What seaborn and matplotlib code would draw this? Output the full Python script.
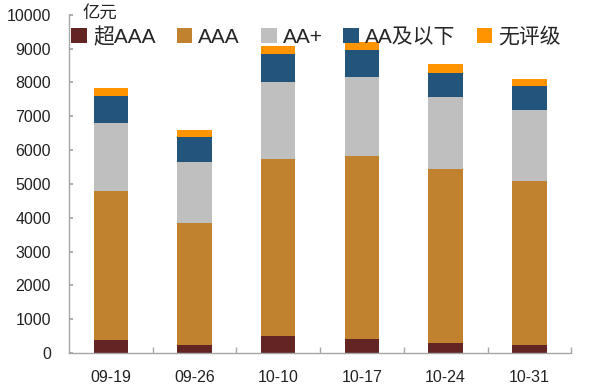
import numpy as np
import pandas as pd
import matplotlib
matplotlib.use("Agg")
import matplotlib.pyplot as plt
import seaborn as sns
from matplotlib.patches import Patch
from matplotlib.ticker import FixedLocator

sns.set_theme(style="white")
plt.rcParams['font.family'] = ['Liberation Sans', 'Noto Sans CJK SC', 'DejaVu Sans']

categories = ["09-19", "09-26", "10-10", "10-17", "10-24", "10-31"]
series_names = ["超AAA", "AAA", "AA+", "AA及以下", "无评级"]
super_aaa = [390, 230, 490, 410, 290, 230]
aaa = [4400, 3620, 5260, 5410, 5150, 4860]
aa_plus = [2010, 1800, 2260, 2350, 2120, 2100]
aa_below = [800, 740, 830, 790, 730, 710]
unrated = [240, 200, 250, 240, 250, 210]
colors = ["#632523", "#C0822F", "#BFBFBF", "#23547B", "#FF9400"]
y_ticks = list(range(0, 10001, 1000))
unit_label = "亿元"

series = [super_aaa, aaa, aa_plus, aa_below, unrated]
cum = np.cumsum(np.array(series), axis=0)

fig = plt.figure(figsize=(6, 3.9), dpi=100)
ax = fig.add_axes([0.115, 0.095, 0.837, 0.867])

# draw cumulative layers from top down so each visible portion is one segment
for i in range(len(series) - 1, -1, -1):
    df = pd.DataFrame({"cat": categories, "val": cum[i]})
    sns.barplot(data=df, x="cat", y="val", color=colors[i], width=0.41,
                saturation=1, ax=ax, linewidth=0)

ax.set_xlim(-0.5, len(categories) - 0.5)
ax.set_ylim(0, 10000)
ax.set_yticks(y_ticks)
ax.set_xlabel("")
ax.set_ylabel("")
for s in ["top", "right"]:
    ax.spines[s].set_visible(False)
for s in ["left", "bottom"]:
    ax.spines[s].set_color("#A6A6A6")
    ax.spines[s].set_linewidth(1.0)

ax.tick_params(axis="y", direction="in", length=3, color="#A6A6A6",
               labelsize=11.5, pad=13, left=True, labelcolor="#222222")
ax.tick_params(axis="x", length=0, labelsize=11.5, pad=12, labelcolor="#222222")
ax.xaxis.set_minor_locator(FixedLocator(np.arange(0.5, len(categories), 1.0)))
ax.tick_params(axis="x", which="minor", direction="in", length=4,
               color="#A6A6A6", bottom=True)

fig.text(0.137, 0.965, unit_label, fontsize=12.5, ha="left", va="center",
         family=['Noto Sans CJK SC'], color="#222222")

handles = [Patch(facecolor=c, edgecolor="none") for c in colors]
leg = fig.legend(handles, series_names, loc="center left",
                 bbox_to_anchor=(0.105, 0.905), ncol=5, frameon=False,
                 handlelength=0.75, handleheight=0.75,
                 handletextpad=0.3, columnspacing=1.0, borderaxespad=0,
                 prop={"family": ['Liberation Sans', 'Noto Sans CJK SC'], "size": 15})

fig.savefig("out.png", dpi=100)
